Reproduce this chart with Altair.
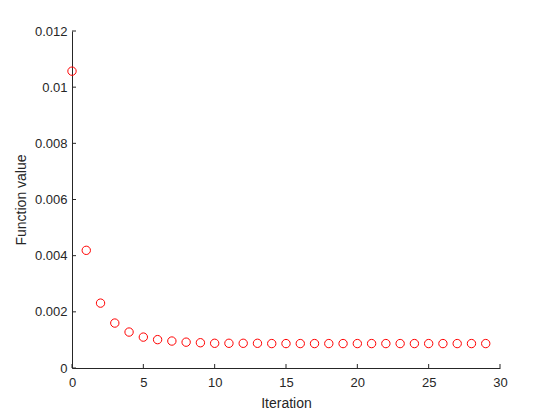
#!/usr/bin/env python3
"""Function value per iteration, MATLAB-style scatter of open red circles."""

import altair as alt
import pandas as pd

iterations = [0, 1, 2, 3, 4, 5, 6, 7, 8, 9,
              10, 11, 12, 13, 14, 15, 16, 17, 18, 19,
              20, 21, 22, 23, 24, 25, 26, 27, 28, 29]
values = [0.01057, 0.00419, 0.00231, 0.00160, 0.00128, 0.00110, 0.00101,
          0.00096, 0.00092, 0.00090, 0.00088, 0.00088, 0.00088, 0.00088,
          0.00087, 0.00087, 0.00087, 0.00087, 0.00087, 0.00087, 0.00087,
          0.00087, 0.00087, 0.00087, 0.00087, 0.00087, 0.00087, 0.00087,
          0.00087, 0.00087]
x_ticks = [0, 5, 10, 15, 20, 25, 30]
y_ticks = [0, 0.002, 0.004, 0.006, 0.008, 0.01, 0.012]

_INK = "#262626"
_FONT = "Liberation Sans"
W, H = 428, 337

df = pd.DataFrame({"iter": iterations, "value": values})
xs = alt.Scale(domain=[0, 30], nice=False, zero=False)
ys = alt.Scale(domain=[0, 0.012], nice=False)

points = (alt.Chart(df)
          .mark_point(shape="circle", filled=False, color="#FF0000",
                      size=70, strokeWidth=1, opacity=1)
          .encode(
              x=alt.X("iter:Q", scale=xs, title="Iteration",
                      axis=alt.Axis(values=x_ticks, ticks=False, grid=False,
                                    labelFlush=False, labelPadding=8,
                                    titlePadding=7, domainColor=_INK,
                                    format="~g")),
              y=alt.Y("value:Q", scale=ys, title="Function value",
                      axis=alt.Axis(values=y_ticks, ticks=False, grid=False,
                                    labelFlush=False, labelPadding=5,
                                    titlePadding=6, domainColor=_INK,
                                    format="~g"))))

# inward-pointing ticks, as MATLAB draws them
yt = (alt.Chart(pd.DataFrame({"t": y_ticks}))
      .mark_rule(color=_INK, strokeWidth=1)
      .encode(y=alt.Y("t:Q", scale=ys), x=alt.value(0), x2=alt.value(4)))
xt = (alt.Chart(pd.DataFrame({"t": x_ticks}))
      .mark_rule(color=_INK, strokeWidth=1)
      .encode(x=alt.X("t:Q", scale=xs), y=alt.value(H), y2=alt.value(H - 4)))

chart = (alt.layer(points, yt, xt)
         .properties(width=W, height=H, background="white",
                     autosize=alt.AutoSizeParams(type="none"),
                     padding={"left": 64, "top": 23, "right": 40, "bottom": 46})
         .configure_view(stroke=None)
         .configure_axis(labelFont=_FONT, titleFont=_FONT, labelFontSize=13,
                         titleFontSize=14, labelColor=_INK, titleColor=_INK,
                         titleFontWeight="normal", domainWidth=1))

chart.save("out.html", embed_options={"renderer": "svg", "actions": False})
